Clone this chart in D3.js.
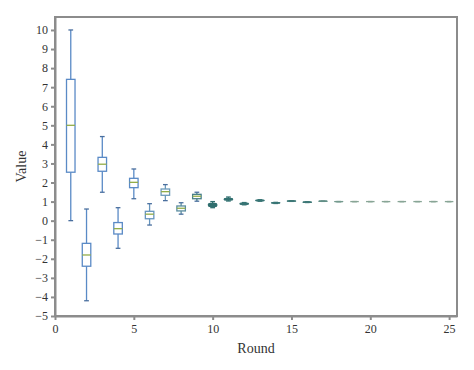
<!DOCTYPE html>
<html>
<head>
<meta charset="utf-8">
<script src="https://cdn.jsdelivr.net/npm/d3@7"></script>
<style>
  body { margin: 0; background: #fff; }
  .axis text { font-family: "Liberation Serif", "DejaVu Serif", serif; font-size: 12px; fill: #333; }
  .axis path, .axis line { stroke: #8c8c8c; stroke-width: 2; }
  .title { font-family: "Liberation Serif", "DejaVu Serif", serif; font-size: 14px; fill: #333; }
</style>
</head>
<body>
<svg id="chart" width="474" height="370"></svg>
<script>
'use strict';
// per-round box statistics
let rounds   = [1, 2, 3, 4, 5, 6, 7, 8, 9, 10, 11, 12, 13, 14, 15, 16, 17, 18, 19, 20, 21, 22, 23, 24, 25];
let whiskLow = [0, -4.2, 1.49, -1.45, 1.15, -0.23, 1.05, 0.34, 1.02, 0.68, 1.03, 0.83, 1.02, 0.9, 1.01, 0.95, 1.01, 0.995, 1, 1, 1, 1, 1, 1, 1];
let q1       = [2.54, -2.39, 2.59, -0.7, 1.73, 0.1, 1.33, 0.51, 1.15, 0.74, 1.08, 0.86, 1.04, 0.92, 1.02, 0.96, 1.015, 0.998, 1, 1, 1, 1, 1, 1, 1];
let median   = [5, -1.8, 2.96, -0.42, 2.01, 0.34, 1.52, 0.65, 1.28, 0.82, 1.13, 0.89, 1.06, 0.93, 1.03, 0.97, 1.02, 1, 1, 1, 1, 1, 1, 1, 1];
let q3       = [7.41, -1.19, 3.32, -0.1, 2.22, 0.49, 1.66, 0.77, 1.38, 0.9, 1.17, 0.92, 1.08, 0.95, 1.04, 0.98, 1.025, 1.002, 1, 1, 1, 1, 1, 1, 1];
let whiskHigh= [10, 0.61, 4.41, 0.68, 2.71, 0.89, 1.89, 0.94, 1.49, 1.0, 1.24, 0.95, 1.1, 0.96, 1.05, 0.99, 1.03, 1.005, 1, 1, 1, 1, 1, 1, 1];
let xTicks = [0, 5, 10, 15, 20, 25];
let yTicks = [-5, -4, -3, -2, -1, 0, 1, 2, 3, 4, 5, 6, 7, 8, 9, 10];

let data = rounds.map((r, i) => ({
    round: r, lo: whiskLow[i], q1: q1[i], med: median[i], q3: q3[i], hi: whiskHigh[i]
}));

let svg = d3.select("#chart"),
    margin = {top: 17, right: 17, bottom: 54, left: 55},
    W = +svg.attr("width"), H = +svg.attr("height");

let x = d3.scaleLinear().domain([0, 25.5]).range([margin.left, W - margin.right]);
let y = d3.scaleLinear().domain([-5, 10.68]).range([H - margin.bottom, margin.top]);

let boxColor = "#5a8ac6", medColor = "#93ad48";
let halfBox = 0.27, halfCap = 0.15;

// small boxes blur into a dark teal blob in the original, flat ones into a grey-green dash
let spreadPx = d => y(d.lo) - y(d.hi);
let colorOf = d3.scaleLinear()
    .domain([0, 0.8, 6, 14, 30])
    .range(["#88a596", "#3a7676", "#2f6e6e", "#6f9cb8", boxColor])
    .clamp(true);
let isSmall = d => spreadPx(d) < 7;

// frame
svg.append("rect")
    .attr("x", margin.left).attr("y", margin.top)
    .attr("width", W - margin.left - margin.right)
    .attr("height", H - margin.top - margin.bottom)
    .attr("fill", "none").attr("stroke", "#8c8c8c").attr("stroke-width", 2);

svg.append("g")
    .attr("class", "axis")
    .attr("transform", "translate(0," + (H - margin.bottom) + ")")
    .call(d3.axisBottom(x).tickValues(xTicks).tickSize(4).tickPadding(4).tickSizeOuter(0));

svg.append("g")
    .attr("class", "axis")
    .attr("transform", "translate(" + margin.left + ",0)")
    .call(d3.axisLeft(y).tickValues(yTicks).tickSize(4).tickPadding(3).tickSizeOuter(0));

svg.append("text").attr("class", "title")
    .attr("x", (margin.left + W - margin.right) / 2).attr("y", 353)
    .attr("text-anchor", "middle").text("Round");

svg.append("text").attr("class", "title")
    .attr("transform", "translate(26," + (margin.top + H - margin.bottom) / 2 + ") rotate(-90)")
    .attr("text-anchor", "middle").text("Value");

let g = svg.selectAll("g.box")
    .data(data)
    .enter().append("g").attr("class", "box");

// whiskers
g.append("line")
    .attr("x1", d => x(d.round)).attr("x2", d => x(d.round))
    .attr("y1", d => y(d.hi)).attr("y2", d => y(d.q3))
    .attr("stroke", d => colorOf(spreadPx(d))).attr("stroke-width", 1.3);
g.append("line")
    .attr("x1", d => x(d.round)).attr("x2", d => x(d.round))
    .attr("y1", d => y(d.q1)).attr("y2", d => y(d.lo))
    .attr("stroke", d => colorOf(spreadPx(d))).attr("stroke-width", 1.3);
g.selectAll("line.cap")
    .data(d => [{d: d, v: d.hi}, {d: d, v: d.lo}])
    .enter().append("line").attr("class", "cap")
    .attr("x1", c => x(c.d.round - halfCap)).attr("x2", c => x(c.d.round + halfCap))
    .attr("y1", c => y(c.v)).attr("y2", c => y(c.v))
    .attr("stroke", c => isSmall(c.d) ? colorOf(spreadPx(c.d)) : "#4a6f9e").attr("stroke-width", 1.3);

// boxes
g.append("rect")
    .attr("x", d => x(d.round - halfBox))
    .attr("width", d => x(d.round + halfBox) - x(d.round - halfBox))
    .attr("y", d => y(d.q3))
    .attr("height", d => y(d.q1) - y(d.q3))
    .attr("rx", d => isSmall(d) ? 2 : 0)
    .attr("fill", d => isSmall(d) ? colorOf(spreadPx(d)) : "none")
    .attr("stroke", d => colorOf(spreadPx(d))).attr("stroke-width", 1.3);

g.append("line")
    .attr("x1", d => x(d.round - halfBox)).attr("x2", d => x(d.round + halfBox))
    .attr("y1", d => y(d.med)).attr("y2", d => y(d.med))
    .attr("stroke", d => isSmall(d) ? colorOf(spreadPx(d)) : medColor).attr("stroke-width", 1.3);
</script>
</body>
</html>
